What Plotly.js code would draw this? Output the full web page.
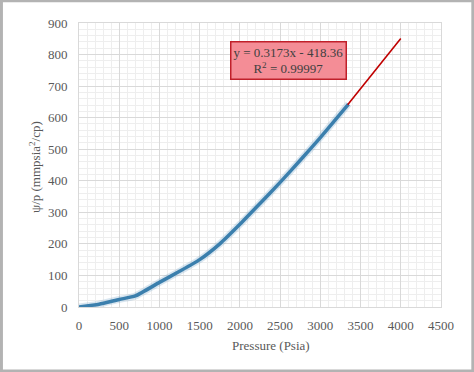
<!DOCTYPE html>
<html>
<head>
<meta charset="utf-8">
<script src="https://cdn.plot.ly/plotly-3.0.1.min.js"></script>
<style>
html,body{margin:0;padding:0;background:#fff;}
#chart{width:474px;height:372px;}
</style>
</head>
<body>
<div id="chart"></div>
<script>
// Pressure (psia) and pseudo-pressure / p
var pressure = [0, 250, 500, 700, 1000, 1250, 1500, 1750, 2000, 2250, 2500, 2750, 3000, 3350];
var psiOverP = [0, 9, 24, 35, 78, 113, 150, 200, 262, 328, 395, 465, 537, 643];
// Linear trendline segment (as drawn)
var trendX = [3340, 4000];
var trendY = [641, 851];
var eqText = "y = 0.3173x - 418.36<br>R<sup>2</sup> = 0.99997";
var xTitle = "Pressure (Psia)";
var yTitle = "ψ/p (mmpsia<sup>2</sup>/cp)";

var fontFam = "Liberation Serif, DejaVu Serif, serif";
var textCol = "#595959";

var traces = [
  {x: pressure, y: psiOverP, mode: "lines", type: "scatter",
   line: {color: "rgba(120,165,200,0.28)", width: 7, shape: "spline", smoothing: 0.5}, hoverinfo: "skip"},
  {x: pressure, y: psiOverP, mode: "lines", type: "scatter",
   line: {color: "#3b7fad", width: 3.5, shape: "spline", smoothing: 0.5}},
  {x: trendX, y: trendY, mode: "lines", type: "scatter",
   line: {color: "#c00000", width: 1.6}}
];

var L = 79, R = 440.7, T = 23.3, B = 306.7;
var pw = R - L, ph = B - T;
function px(v){ return (v - L) / pw; }
function py(v){ return (B - v) / ph; }

var layout = {
  width: 474, height: 372,
  margin: {l: L, r: 474 - R, t: T, b: 372 - B},
  paper_bgcolor: "#ffffff", plot_bgcolor: "#ffffff",
  showlegend: false,
  font: {family: fontFam, size: 13, color: textCol},
  xaxis: {
    range: [0, 4500], dtick: 500, tick0: 0,
    showgrid: true, gridcolor: "#d9d9d9", gridwidth: 1,
    minor: {dtick: 100, showgrid: true, gridcolor: "#eeeeee", gridwidth: 1},
    zeroline: false, showline: true, linecolor: "#d9d9d9", mirror: true,
    ticks: "", ticklabelstandoff: 6,
    tickfont: {family: fontFam, size: 13, color: textCol}
  },
  yaxis: {
    range: [0, 900], dtick: 100, tick0: 0,
    showgrid: true, gridcolor: "#d9d9d9", gridwidth: 1,
    minor: {dtick: 20, showgrid: true, gridcolor: "#eeeeee", gridwidth: 1},
    zeroline: false, showline: true, linecolor: "#d9d9d9", mirror: true,
    ticks: "", ticklabelstandoff: 8,
    tickfont: {family: fontFam, size: 13, color: textCol}
  },
  annotations: [
    {x: 2600, y: 780, xref: "x", yref: "y", text: eqText, showarrow: false,
     font: {family: fontFam, size: 13, color: "#404040"},
     bgcolor: "#f48d96", bordercolor: "#c0202a", borderwidth: 1.5, borderpad: 2},
    {x: px(271), y: py(345), xref: "paper", yref: "paper", text: xTitle, showarrow: false,
     xanchor: "center", yanchor: "middle",
     font: {family: fontFam, size: 13, color: textCol}},
    {x: px(35), y: py(167), xref: "paper", yref: "paper", text: yTitle, showarrow: false,
     textangle: -90, xanchor: "center", yanchor: "middle",
     font: {family: fontFam, size: 13, color: textCol}}
  ],
  shapes: [
    {type: "rect", xref: "paper", yref: "paper",
     x0: px(1.5), x1: px(472.5), y0: py(370.5), y1: py(1),
     line: {color: "#b3b3b3", width: 3}, fillcolor: "rgba(0,0,0,0)", layer: "above"}
  ]
};

Plotly.newPlot("chart", traces, layout, {displayModeBar: false, staticPlot: true});
</script>
</body>
</html>
